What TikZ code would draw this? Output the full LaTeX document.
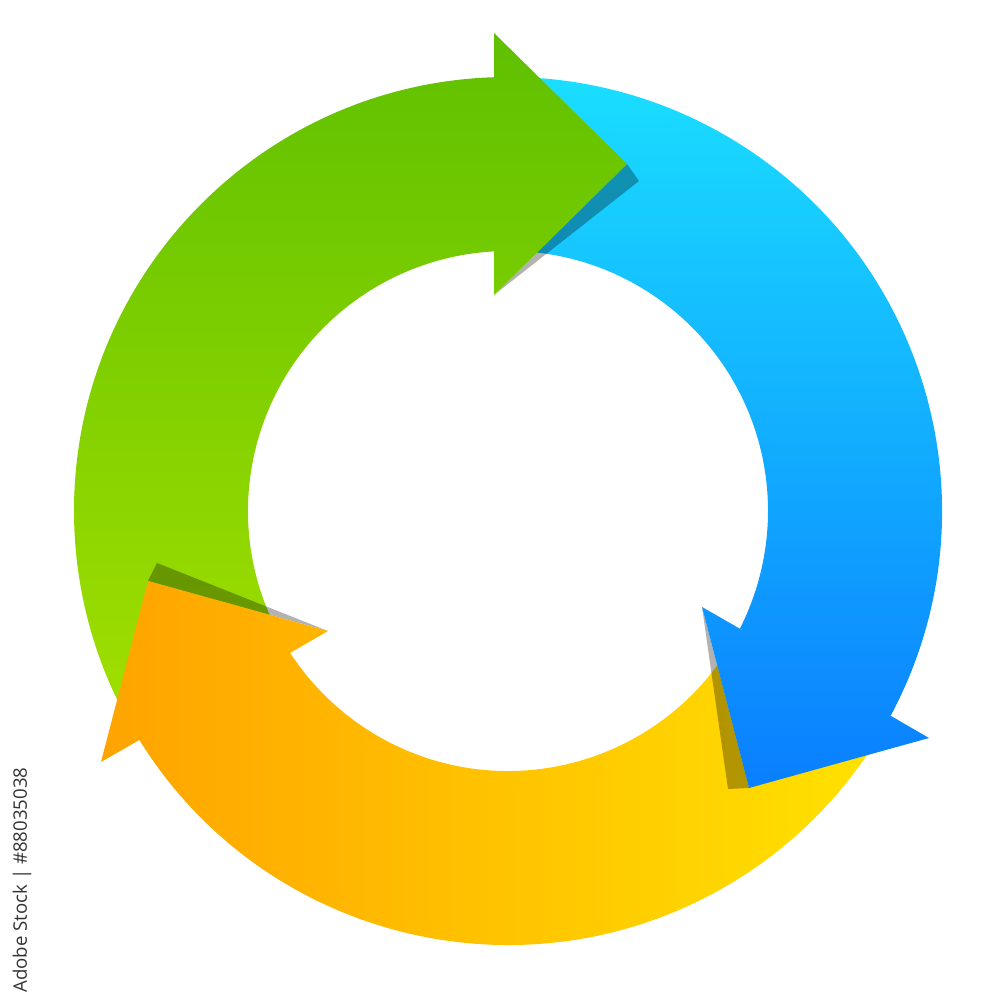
\documentclass[tikz,border=0pt]{standalone}
\usepackage{fontspec}
\setsansfont{Open Sans}
\definecolor{gtop}{HTML}{5FC000}
\definecolor{gbot}{HTML}{A6E100}
\definecolor{btop}{HTML}{1ADEFF}
\definecolor{bbot}{HTML}{0A7EFF}
\definecolor{oleft}{HTML}{FFA300}
\definecolor{oright}{HTML}{FFE100}
\definecolor{credittext}{HTML}{333333}
\tikzset{
  dropshadow/.style={fill=black, fill opacity=0.3},
  credit/.style={rotate=90, text=credittext, inner sep=0pt, font=\sffamily\fontsize{5.3}{6}\selectfont}
}
\begin{document}
\begin{tikzpicture}
\useasboundingbox (-5.08,-4.89) rectangle (4.92,5.11);
% ---- bodies ----
\begin{scope}
  \clip (91.85:4.34) arc[start angle=91.85,end angle=211.85,radius=4.34]
        -- (213.09:2.6) arc[start angle=213.09,end angle=93.09,radius=2.6] -- cycle;
  \shade[top color=gtop, bottom color=gbot] (-4.5,-2.55) rectangle (4.5,4.78);
\end{scope}
\begin{scope}
  \clip (-28.15:4.34) arc[start angle=-28.15,end angle=91.85,radius=4.34]
        -- (93.09:2.6) arc[start angle=93.09,end angle=-26.91,radius=2.6] -- cycle;
  \shade[top color=btop, bottom color=bbot] (-4.5,-2.8) rectangle (4.5,4.34);
\end{scope}
\begin{scope}
  \clip (211.85:4.34) arc[start angle=211.85,end angle=331.85,radius=4.34]
        -- (333.09:2.6) arc[start angle=333.09,end angle=213.09,radius=2.6] -- cycle;
  \shade[left color=oleft, right color=oright] (-4.1,-4.5) rectangle (3.6,4.5);
\end{scope}
% ---- shadows ----
\fill[dropshadow] (1.19,3.47) -- (1.31,3.30) -- (-0.14,2.16) -- cycle;
\fill[dropshadow] (2.41,-2.77) -- (2.20,-2.78) -- (1.94,-0.96) -- cycle;
\fill[dropshadow] (-3.60,-0.70) -- (-3.51,-0.52) -- (-1.80,-1.20) -- cycle;
% ---- heads (with a thin strip reaching back into their own body) ----
\begin{scope}
  \clip (-0.14,4.78) -- (1.19,3.47) -- (-0.14,2.16) -- (-0.14,2.62) -- (-0.22,2.62)
        -- (-0.22,4.32) -- (-0.14,4.32) -- cycle;
  \shade[top color=gtop, bottom color=gbot] (-4.5,-2.55) rectangle (4.5,4.78);
\end{scope}
\begin{scope}
  \clip (4.21,-2.27) -- (2.41,-2.77) -- (1.94,-0.96) -- (2.339,-1.189) -- (2.379,-1.119)
        -- (3.851,-1.970) -- (3.811,-2.039) -- cycle;
  \shade[top color=btop, bottom color=bbot] (-4.5,-2.8) rectangle (4.5,4.34);
\end{scope}
\begin{scope}
  \clip (-4.07,-2.51) -- (-3.60,-0.70) -- (-1.80,-1.20) -- (-2.199,-1.431) -- (-2.159,-1.501)
        -- (-3.631,-2.351) -- (-3.671,-2.281) -- cycle;
  \shade[left color=oleft, right color=oright] (-4.1,-4.5) rectangle (3.6,4.5);
\end{scope}
% ---- credit line ----
\node[credit] (creditline) at (-4.86,-3.69) {Adobe Stock | \#88035038};
\end{tikzpicture}
\end{document}
